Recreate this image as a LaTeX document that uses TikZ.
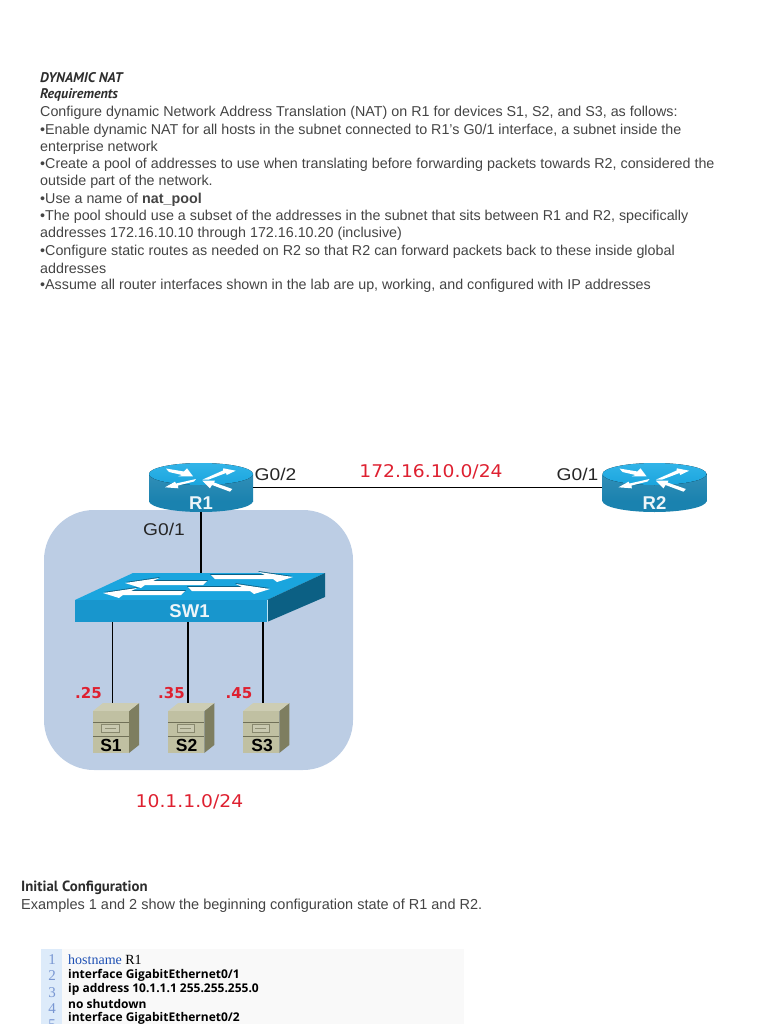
\documentclass[tikz,border=0pt]{standalone}
\usepackage{fontspec}
\setmainfont{Liberation Sans}
\newfontfamily\headfont{PT Sans}
\newfontfamily\ifcfont[FakeStretch=1.13]{Liberation Sans}
\newfontfamily\diagfont[FakeStretch=1.07]{DejaVu Sans}
\newfontfamily\hostfont{DejaVu Sans}
\newfontfamily\codefont{Open Sans}
\newfontfamily\numfont{Liberation Serif}
\usetikzlibrary{arrows.meta,positioning}
\definecolor{bodygrey}{RGB}{68,68,68}
\definecolor{headgrey}{RGB}{45,45,45}
\definecolor{lanblue}{RGB}{188,205,228}
\definecolor{ciscotop}{RGB}{26,165,222}
\definecolor{ciscolight}{RGB}{50,180,232}
\definecolor{ciscofront}{RGB}{24,150,205}
\definecolor{ciscoside}{RGB}{26,130,175}
\definecolor{ciscodark}{RGB}{12,96,132}
\definecolor{addrred}{RGB}{222,32,48}
\definecolor{srvfront}{RGB}{192,192,162}
\definecolor{srvtop}{RGB}{205,205,180}
\definecolor{srvside}{RGB}{126,126,96}
\definecolor{srvline}{RGB}{112,112,88}
\definecolor{gutterblue}{RGB}{221,235,250}
\definecolor{codebg}{RGB}{249,249,249}
\definecolor{kwblue}{RGB}{30,80,180}
\begin{document}
\begin{tikzpicture}[x=1pt,y=-1pt,
  txt/.style={anchor=west,inner sep=0pt,font=\fontsize{14.3}{16}\selectfont,text=bodygrey},
  headtxt/.style={anchor=west,inner sep=0pt,font=\headfont\fontsize{14}{16}\selectfont\bfseries,text=headgrey},
  ifc/.style={inner sep=0pt,font=\ifcfont\fontsize{17}{19}\selectfont,text=black!85},
  addr/.style={inner sep=0pt,font=\diagfont\fontsize{17.5}{20}\selectfont,text=addrred},
  hostaddr/.style={inner sep=0pt,font=\hostfont\bfseries\fontsize{15}{18}\selectfont,text=addrred},
  routerbox/.style={inner sep=0pt,text=white!92!ciscoside,font=\bfseries\fontsize{18.5}{20}\selectfont,minimum width=104pt,text height=46pt,text depth=3pt,text centered},
  swbox/.style={inner sep=0pt,text=white!92!ciscoside,font=\bfseries\fontsize{18.5}{20}\selectfont,minimum width=192pt,minimum height=22pt},
  srvbox/.style={inner sep=0pt,minimum width=36pt,text height=40pt,text depth=2pt,text=black,font=\bfseries\fontsize{17.5}{19}\selectfont},
  wire/.style={draw=black,line width=1.8pt},
  codeline/.style={anchor=west,inner sep=0pt,font=\codefont\fontsize{12}{14}\selectfont\bfseries,text=black},
  numline/.style={inner sep=0pt,font=\numfont\fontsize{15}{16}\selectfont,text=kwblue!60},
  routerpic/.pic={
    \fill[ciscoside] (0,27) ellipse [x radius=52pt,y radius=11pt];
    \fill[top color=ciscoside!90!white,bottom color=ciscoside] (-52,0) rectangle (52,27);
    \fill[top color=ciscolight,bottom color=ciscotop] (0,0) ellipse [x radius=52pt,y radius=11pt];
    \fill[white] (-8,2.3) -- (-14,-5.7) -- (-17,-2.5) -- (-35,-5.5) -- (-32,-2) -- (-19,1) -- (-22.7,2.3) -- cycle;
    \fill[white] (34.7,-3.3) -- (22.3,-5.7) -- (22,-3.5) -- (1.3,5.7) -- (7.3,5.7) -- (25,-1) -- (25.7,1) -- cycle;
    \fill[white] (-36,13.3) -- (-26,7.7) -- (-25,9.5) -- (-5,5) -- (-7,7.5) -- (-23,11.5) -- (-22.7,14.3) -- cycle;
    \fill[white] (1.3,6.7) -- (14,6.7) -- (13,8.5) -- (31.3,15) -- (29,17.7) -- (11,11) -- (9,14.3) -- cycle;
  },
  swarrow/.pic={
    \fill[ciscodark] (1,-1) -- (35,-6) -- (29,-3) -- (83,-3) -- (79,1) -- (21,1) -- (17,4) -- cycle;
    \fill[white] (0,0) -- (34,-5) -- (28,-2) -- (82,-2) -- (78,2) -- (20,2) -- (16,5) -- cycle;
  },
  serverpic/.pic={
    \fill[srvside] (18,-21) -- (28,-29) -- (28,13) -- (18,21) -- cycle;
    \fill[srvtop] (-18,-21) -- (-8,-29) -- (28,-29) -- (18,-21) -- cycle;
    \fill[srvfront] (-18,-21) rectangle (18,21);
    \draw[srvline,line width=0.7pt] (-18,-10) -- (18,-10) (-18,4) -- (18,4);
    \draw[srvline!70!srvfront,fill=srvfront!85!white,line width=0.6pt] (-9.3,-7.3) rectangle (8,0);
    \draw[srvline!60!srvfront,line width=0.5pt] (-6,-3.6) -- (5,-3.6);
  }]
\useasboundingbox (0,0) rectangle (768,1024);

\node[headtxt] (title) at (40,78) {\itshape DYNAMIC NAT};
\node[headtxt] (req) at (40,95) {\itshape Requirements};
\node[txt] (l1) at (40,112.5) {Configure dynamic Network Address Translation (NAT) on R1 for devices S1, S2, and S3, as follows:};
\node[txt] (l2) at (40,130.5) {•Enable dynamic NAT for all hosts in the subnet connected to R1’s G0/1 interface, a subnet inside the};
\node[txt] (l3) at (40,147.5) {enterprise network};
\node[txt] (l4) at (40,164.5) {•Create a pool of addresses to use when translating before forwarding packets towards R2, considered the};
\node[txt] (l5) at (40,182) {outside part of the network.};
\node[txt] (l6) at (40,199.5) {•Use a name of {\bfseries nat\_pool}};
\node[txt] (l7) at (40,216.5) {•The pool should use a subset of the addresses in the subnet that sits between R1 and R2, specifically};
\node[txt] (l8) at (40,233.5) {addresses 172.16.10.10 through 172.16.10.20 (inclusive)};
\node[txt] (l9) at (40,251.5) {•Configure static routes as needed on R2 so that R2 can forward packets back to these inside global};
\node[txt] (l10) at (40,268) {addresses};
\node[txt] (l11) at (40,285.5) {•Assume all router interfaces shown in the lab are up, working, and configured with IP addresses};

\node[fill=lanblue,rounded corners=50pt,minimum width=309pt,minimum height=260pt,inner sep=0pt] (lan) at (198.5,640) {};

\pic at (201,474) {routerpic};
\pic at (654.5,474) {routerpic};
\node[routerbox] (R1) at (201,487.5) {R1};
\node[routerbox] (R2) at (654.5,487.5) {R2};
\draw[wire,line width=1.2pt] (R1) -- (R2);

\fill[ciscotop] (133,573) -- (325,573) -- (267,600) -- (75,600) -- cycle;
\fill[ciscodark] (267,600) -- (325,573) -- (325,597) -- (267,622) -- cycle;
\fill[ciscofront] (75,600) rectangle (267,622);
\draw[white!70!ciscotop,line width=0.6pt] (267,600) -- (267,622);
\pic at (125,583) {swarrow};
\pic[xscale=-1] at (293,577) {swarrow};
\pic at (103,593) {swarrow};
\pic[xscale=-1] at (270,589) {swarrow};
\node[swbox] (SW1) at (171,611) {\hspace*{37pt}SW1};
\coordinate (swtop) at (201,573);
\draw[wire] (R1.south) -- (swtop);

\pic at (111,732) {serverpic};
\pic at (186.25,732) {serverpic};
\pic at (261.25,732) {serverpic};
\node[srvbox] (S1) at (111,732) {S1};
\node[srvbox,right=39.25pt of S1] (S2) {S2};
\node[srvbox,right=39pt of S2] (S3) {S3};
\draw[wire] ([xshift=1.5pt]S1.north |- SW1.south) -- ([xshift=1.5pt,yshift=8pt]S1.north);
\draw[wire] ([xshift=1pt]S2.north |- SW1.south) -- ([xshift=1pt,yshift=8pt]S2.north);
\draw[wire] ([xshift=1pt]S3.north |- SW1.south) -- ([xshift=1pt,yshift=8pt]S3.north);

\node[ifc] (g02) at (275.5,474) {G0/2};
\node[ifc] (g01r) at (577.5,474) {G0/1};
\node[ifc] (g01) at (164,529) {G0/1};
\node[addr] (wan) at (431,472) {172.16.10.0/24};
\node[addr] (subnet) at (189.5,801.5) {10.1.1.0/24};
\node[hostaddr] (h25) at (88.5,693) {.25};
\node[hostaddr] (h35) at (171.5,693) {.35};
\node[hostaddr] (h45) at (239,693) {.45};

\node[headtxt,font=\headfont\fontsize{14.8}{16}\selectfont\bfseries] (init) at (21,888) {Initial Configuration};
\node[txt,font=\fontsize{14.5}{16}\selectfont] (ex) at (21,905.5) {Examples 1 and 2 show the beginning configuration state of R1 and R2.};

\fill[codebg] (41,949) rectangle (464,1024);
\fill[gutterblue] (41,949) rectangle (62,1024);
\node[numline] (n1) at (52,960) {1};
\node[numline] (n2) at (52,976) {2};
\node[numline] (n3) at (52,992.5) {3};
\node[numline] (n4) at (52,1009) {4};
\node[numline] (n5) at (52,1025) {5};
\node[anchor=west,inner sep=0pt,font=\numfont\fontsize{14}{16}\selectfont] (c1) at (68,960) {\textcolor{kwblue}{hostname} R1};
\node[codeline] (c2) at (68,975) {interface GigabitEthernet0/1};
\node[codeline] (c3) at (68,989) {ip address 10.1.1.1 255.255.255.0};
\node[codeline] (c4) at (68,1004) {no shutdown};
\node[codeline] (c5) at (68,1018) {interface GigabitEthernet0/2};
\end{tikzpicture}
\end{document}
